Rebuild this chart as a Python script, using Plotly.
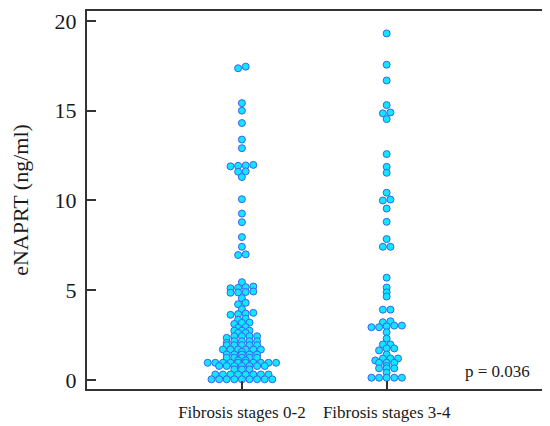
import plotly.graph_objects as go

# eNAPRT (ng/ml) values per group
categories = ['Fibrosis stages 0-2', 'Fibrosis stages 3-4']

stages_0_2 = [17.45, 17.36, 15.42, 15.0, 14.31, 13.39, 12.91,
              11.98, 11.95, 11.93, 11.9, 11.62, 11.6, 11.3,
              10.07, 9.27, 8.79, 7.96, 7.42, 7.0, 6.96,
              5.45, 5.21, 5.17, 5.13, 5.11, 4.93, 4.9, 4.88, 4.86, 4.56,
              4.3, 4.22, 3.95, 3.74, 3.7, 3.67, 3.63, 3.42, 3.36,
              3.2, 3.18, 3.12, 2.95, 2.9,
              2.75, 2.75, 2.75, 2.62, 2.62,
              2.44, 2.44, 2.44, 2.44, 2.35,
              2.16, 2.16, 2.16, 2.16, 2.07,
              1.94, 1.94, 1.94, 1.94, 1.94,
              1.7, 1.7, 1.7, 1.7, 1.7, 1.7, 1.57,
              1.42, 1.42, 1.42, 1.42, 1.42,
              1.24, 1.24, 1.24, 1.24, 1.24, 1.09, 1.09,
              0.96, 0.96, 0.96, 0.96, 0.96, 0.96, 0.96, 0.96, 0.96, 0.96,
              0.78, 0.78, 0.78, 0.78, 0.78, 0.78, 0.78,
              0.59, 0.59, 0.59,
              0.31, 0.31, 0.31, 0.31, 0.31, 0.31, 0.31, 0.31,
              0.04, 0.04, 0.04, 0.04, 0.04, 0.04, 0.04, 0.04, 0.04]

stages_3_4 = [19.3, 17.56, 16.68, 15.31, 14.9, 14.85, 14.53,
              12.58, 11.87, 11.54, 10.43, 10.05, 10.0, 9.55, 8.81,
              7.85, 7.42, 7.42,
              5.7, 5.15, 4.88, 4.65, 3.92, 3.92, 3.27, 3.22,
              3.03, 3.03, 2.99, 2.94, 2.94,
              2.66, 2.31, 1.98, 1.98, 1.76, 1.76, 1.65, 1.42,
              1.2, 1.2, 1.2, 1.09, 0.96, 0.96, 0.96, 0.78,
              0.65, 0.65, 0.65, 0.41,
              0.13, 0.13, 0.13, 0.13, 0.13]

p_text = 'p = 0.036'

# layout geometry (the page body adds 8px on the left and top)
W, H = 542, 418
ML, MR, MT, MB = 79, 7, 1, 37
x_range = [-1.07, 2.08]
y_range = [-0.5, 20.55]
px_x = (W - ML - MR) / (x_range[1] - x_range[0])
px_y = (H - MT - MB) / (y_range[1] - y_range[0])
dot = 7.6     # horizontal spacing of dots in a row, pixels
row_h = 2.0   # values closer than this (pixels) share a row


def dot_rows(values):
    # binned dot plot: close values go side by side, centred on the group
    order = sorted(range(len(values)), key=lambda i: values[i])
    rows = []
    for i in order:
        if rows and (values[i] - values[rows[-1][0]]) * px_y < row_h:
            rows[-1].append(i)
        else:
            rows.append([i])
    offsets = [0.0] * len(values)
    for row in rows:
        n = len(row)
        for j, i in enumerate(row):
            offsets[i] = (j - (n - 1) / 2) * dot / px_x
    return offsets


fig = go.Figure()
for k, vals in enumerate([stages_0_2, stages_3_4]):
    offs = dot_rows(vals)
    fig.add_trace(go.Scatter(
        x=[k + o for o in offs], y=vals, mode='markers',
        marker=dict(size=7, color='#0FE6FF', line=dict(color='#4060F0', width=1)),
        showlegend=False, hoverinfo='y'))

axis_font = dict(family='Liberation Serif', color='#1a1a1a')
fig.update_layout(
    width=W, height=H,
    margin=dict(l=ML, r=MR, t=MT, b=MB),
    plot_bgcolor='white', paper_bgcolor='white',
    xaxis=dict(range=x_range, tickvals=[0, 1], ticktext=categories,
               ticks='inside', ticklen=8, tickwidth=1.5, tickcolor='#333',
               showline=True, linecolor='#333', linewidth=2, mirror=True,
               showgrid=False, zeroline=False, ticklabelstandoff=7,
               tickfont=dict(size=17, **axis_font)),
    yaxis=dict(range=y_range, tickvals=[0, 5, 10, 15, 20],
               ticks='inside', ticklen=9, tickwidth=1.5, tickcolor='#333',
               showline=True, linecolor='#333', linewidth=2, mirror=True,
               showgrid=False, zeroline=False, ticklabelstandoff=4,
               tickfont=dict(size=22, **axis_font),
               title=dict(text='eNAPRT (ng/ml)', standoff=22,
                          font=dict(size=22, **axis_font))),
    annotations=[dict(text=p_text, xref='paper', yref='paper', x=0.975, y=0.015,
                      xanchor='right', yanchor='bottom', showarrow=False,
                      font=dict(size=17, **axis_font))],
)

fig.write_html("out.html")
